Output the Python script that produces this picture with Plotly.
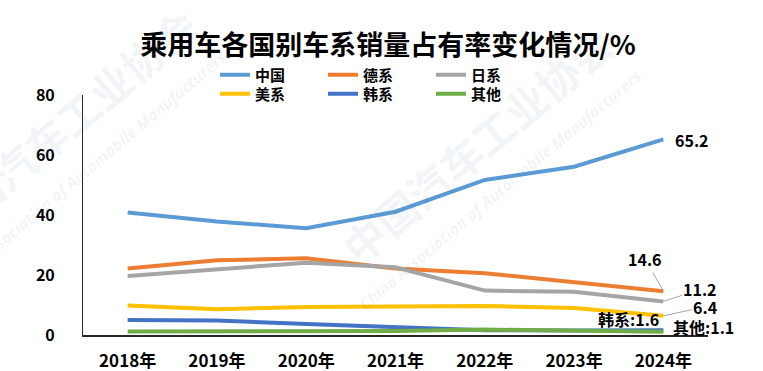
import plotly.graph_objects as go

years = ["2018年", "2019年", "2020年", "2021年", "2022年", "2023年", "2024年"]
china = [40.8, 37.8, 35.6, 41.1, 51.7, 56.1, 65.2]
germany = [22.2, 24.9, 25.6, 22.2, 20.6, 17.6, 14.6]
japan = [19.7, 21.9, 24.1, 22.6, 14.8, 14.4, 11.2]
usa = [9.8, 8.6, 9.3, 9.6, 9.7, 9.0, 6.4]
korea = [5.0, 4.8, 3.7, 2.7, 1.6, 1.5, 1.6]
other = [1.2, 1.2, 1.2, 1.3, 1.8, 1.6, 1.1]

names = ["中国", "德系", "日系", "美系", "韩系", "其他"]
colors = ["#5B9BD5", "#ED7D31", "#A5A5A5", "#FFC000", "#4472C4", "#70AD47"]
series = [china, germany, japan, usa, korea, other]
legends = ["legend", "legend", "legend", "legend2", "legend2", "legend2"]

watermark_cn = "中国汽车工业协会"
watermark_en = "China Association of Automobile Manufacturers"

FONT = "Noto Sans CJK SC"

fig = go.Figure()
for name, vals, col, lg in zip(names, series, colors, legends):
    fig.add_trace(go.Scatter(x=years, y=vals, mode="lines", name=name,
                             line=dict(color=col, width=4), legend=lg))

# faint watermarks
for cx, cy in [(61, 125), (476, 144)]:
    fig.add_annotation(xref="paper", yref="paper", x=(cx - 83) / 625, y=(335 - cy) / 240,
                       text=watermark_cn, showarrow=False, textangle=-40,
                       xanchor="center", yanchor="middle",
                       font=dict(family=FONT, size=42, weight="bold",
                                 color="rgba(60,100,150,0.08)"))
    fig.add_annotation(xref="paper", yref="paper", x=(cx + 24 - 83) / 625,
                       y=(335 - cy - 46) / 240,
                       text="<i>" + watermark_en + "</i>", showarrow=False, textangle=-40,
                       xanchor="center", yanchor="middle",
                       font=dict(family="Open Sans", size=16, weight="bold",
                                 color="rgba(60,100,150,0.08)"))

def ann(x, y, text, **kw):
    fig.add_annotation(x=x, y=y, text=text,
                       font=dict(family=FONT, size=16, color="black", weight="bold"), **kw)

last = years[-1]
ann(last, china[-1], "65.2", showarrow=False, xanchor="left", xshift=10, yshift=-1)
ann(last, germany[-1], "14.6", showarrow=True, arrowhead=0, arrowcolor="#A5A5A5",
    arrowwidth=1, ax=-18, ay=-32)
ann(last, japan[-1], "11.2", showarrow=True, arrowhead=0, arrowcolor="#A5A5A5",
    arrowwidth=1, ax=37, ay=-12)
ann(last, usa[-1], "6.4", showarrow=True, arrowhead=0, arrowcolor="#A5A5A5",
    arrowwidth=1, ax=42, ay=-9)
ann(last, korea[-1], "韩系:1.6", showarrow=False, xanchor="right", xshift=-2, yshift=11)
ann(last, other[-1], "其他:1.1", showarrow=False, xanchor="left", xshift=8, yshift=5)

legend_common = dict(orientation="h", xref="container", yref="container",
                     xanchor="left", yanchor="middle", bgcolor="rgba(0,0,0,0)",
                     font=dict(family=FONT, size=15, color="black", weight="bold"),
                     entrywidth=63, entrywidthmode="pixels", itemclick=False)

fig.update_layout(
    width=763, height=371,
    margin=dict(l=83, r=55, t=95, b=36, autoexpand=False),
    paper_bgcolor="white", plot_bgcolor="white",
    title=dict(text="乘用车各国别车系销量占有率变化情况/%", x=388 / 763, xanchor="center",
               xref="container", y=1 - 46 / 371, yanchor="middle", yref="container",
               font=dict(family=FONT, size=27, color="black", weight="bold")),
    legend=dict(x=215 / 763, y=1 - 75 / 371, **legend_common),
    legend2=dict(x=215 / 763, y=1 - 94 / 371, **legend_common),
    showlegend=True,
    xaxis=dict(type="category", range=[-0.5, 6.5], showline=True, linecolor="#262626",
               linewidth=1.5, showgrid=False, zeroline=False, ticks="",
               ticklabelstandoff=10,
               tickfont=dict(family=FONT, size=17, color="black", weight="bold")),
    yaxis=dict(range=[0, 80], tickvals=[0, 20, 40, 60, 80], showline=True,
               linecolor="#262626", linewidth=1, showgrid=False, zeroline=False,
               ticks="", ticklabelstandoff=24,
               tickfont=dict(family=FONT, size=16, color="black", weight="bold")),
)

fig.write_html("out.html", config={"displayModeBar": False},
               post_script="document.body.style.margin='0';")
